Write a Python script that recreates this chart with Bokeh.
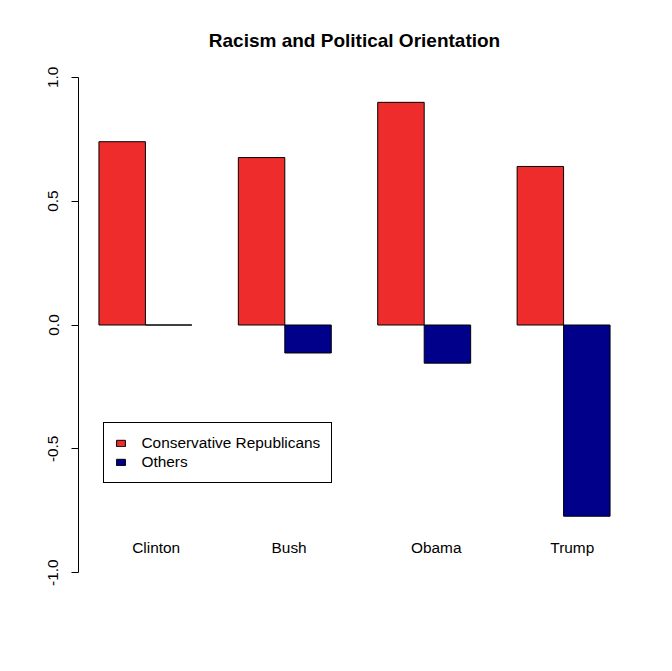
from bokeh.plotting import figure
from bokeh.models import ColumnDataSource, Range1d, FixedTicker, PrintfTickFormatter, Legend
from bokeh.core.properties import value
from bokeh.embed import file_html
from bokeh.resources import INLINE

# values
presidents = ["Clinton", "Bush", "Obama", "Trump"]
conservative = [0.74, 0.676, 0.899, 0.64]
others = [0.0, -0.113, -0.154, -0.772]
y_ticks = [-1.0, -0.5, 0.0, 0.5, 1.0]

FONT = "Liberation Sans"

# barplot(beside=TRUE) layout: two bars of width 1 per group, one bar gap between groups
cr_x = [1.5 + 3 * i for i in range(len(presidents))]
ot_x = [2.5 + 3 * i for i in range(len(presidents))]

cr_src = ColumnDataSource(dict(x=cr_x, top=conservative, name=presidents))
ot_src = ColumnDataSource(dict(x=ot_x, top=others, name=presidents))
lab_src = ColumnDataSource(dict(x=cr_x, y=[-0.9] * len(presidents), name=presidents))

p = figure(width=656, height=655, output_backend="svg", toolbar_location=None,
           x_range=Range1d(0.56, 12.44), y_range=Range1d(-1.08, 1.08),
           x_axis_location=None, min_border_left=78, min_border_right=26,
           min_border_top=57, min_border_bottom=63,
           title="Racism and Political Orientation")

p.outline_line_color = None
p.xgrid.visible = False
p.ygrid.visible = False
p.background_fill_color = "white"
p.border_fill_color = "white"

# title
p.title.align = "center"
p.title.text_font = FONT
p.title.text_font_size = "19px"
p.title.text_font_style = "bold"
p.title.text_color = "black"
p.title.standoff = 14

# y axis like R's default
ax = p.yaxis[0]
ax.ticker = FixedTicker(ticks=y_ticks)
ax.formatter = PrintfTickFormatter(format="%.1f")
ax.bounds = (-1, 1)
ax.major_label_orientation = "vertical"
ax.major_tick_in = 0
ax.major_tick_out = 7
ax.minor_tick_line_color = None
ax.axis_line_color = "black"
ax.major_tick_line_color = "black"
ax.major_label_text_font = FONT
ax.major_label_text_font_size = "15.4px"
ax.major_label_text_color = "black"
ax.major_label_standoff = 13

r_cr = p.vbar(x="x", top="top", bottom=0, width=1, source=cr_src,
              fill_color="#EE2C2C", line_color="black", line_width=1)
r_ot = p.vbar(x="x", top="top", bottom=0, width=1, source=ot_src,
              fill_color="#00008B", line_color="black", line_width=1)

# group labels
p.text(x="x", y="y", text="name", source=lab_src, x_offset=10,
       text_align="left", text_baseline="middle",
       text_font=value(FONT), text_font_size="15.4px", text_color="black")

legend = Legend(items=[("Conservative Republicans", [r_cr]), ("Others", [r_ot])],
                location=(24.5, 109.5))
legend.border_line_color = "black"
legend.border_line_width = 1
legend.border_line_alpha = 1
legend.background_fill_color = "white"
legend.background_fill_alpha = 1
legend.padding = 11
legend.spacing = 1
legend.glyph_width = 11
legend.glyph_height = 8
legend.label_height = 16
legend.label_standoff = 16
legend.label_text_font = FONT
legend.label_text_font_size = "15.4px"
legend.label_text_color = "black"
legend.margin = 0
p.add_layout(legend)

open("out.html", "w").write(file_html(p, INLINE))
